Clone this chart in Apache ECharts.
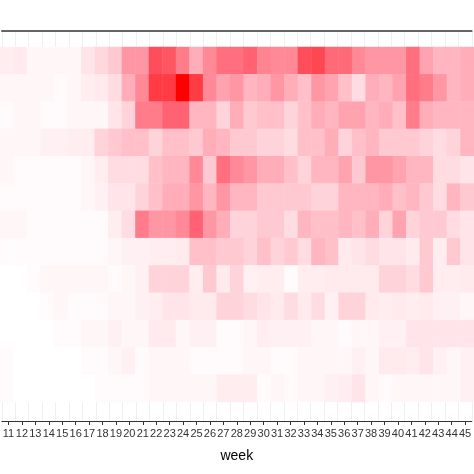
<!DOCTYPE html>
<html><head><meta charset="utf-8">
<script src="https://cdn.jsdelivr.net/npm/echarts@6/dist/echarts.min.js"></script>
<style>html,body{margin:0;padding:0;background:#fff}#c{width:474px;height:474px}</style>
</head><body><div id="c"></div>
<script>
const weeks = [];
for (let w = 11; w <= 45; w++) weeks.push(String(w));
const rows = ['1','2','3','4','5','6','7','8','9','10','11','12','13'];
const r1 = [10,12,5,5,5,5,15,22,30,55,55,80,78,65,45,60,70,70,75,62,60,60,80,82,72,72,60,55,55,55,70,50,40,40,45];
const r2 = [5,5,5,5,3,5,10,12,20,45,60,85,85,100,85,60,50,55,40,45,55,45,35,55,50,35,20,45,40,50,70,65,55,40,45];
const r3 = [3,5,5,3,3,5,5,5,15,25,65,65,75,75,40,40,25,45,30,35,35,25,35,45,40,50,50,40,45,35,65,45,40,40,40];
const r4 = [5,5,5,8,8,10,10,25,30,35,35,25,35,35,30,45,40,30,30,25,25,20,35,35,45,25,35,40,30,30,30,25,20,25,40];
const r5 = [5,3,3,3,3,3,5,10,20,20,20,35,40,40,60,30,70,60,55,45,45,35,25,40,40,50,30,55,55,50,40,40,20,20,15];
const r6 = [3,3,3,3,3,3,5,8,15,15,25,35,45,45,55,40,55,40,40,30,30,30,30,25,25,40,40,40,45,35,40,30,20,40,30];
const r7 = [5,5,3,2,2,2,3,3,10,20,65,55,55,60,75,55,45,25,25,30,30,20,40,35,35,40,35,45,25,50,25,30,30,20,15];
const r8 = [2,2,2,2,2,2,2,3,5,8,8,10,10,12,35,35,30,30,25,35,25,30,20,40,35,12,15,20,15,15,12,30,10,30,15];
const r9 = [0,0,2,5,5,5,5,5,3,5,8,25,25,25,10,30,12,25,8,10,10,3,10,10,12,12,12,12,25,25,20,30,10,10,12];
const r10 = [0,0,0,2,5,3,3,3,5,5,8,10,15,15,12,12,25,25,20,15,12,20,12,20,8,25,25,12,10,12,10,12,8,8,5];
const r11 = [0,0,0,0,2,3,5,5,8,5,5,12,12,5,8,8,3,2,5,10,8,8,8,5,5,3,5,5,8,8,15,15,15,15,15];
const r12 = [3,0,0,0,0,0,2,3,5,8,3,5,5,5,3,3,3,3,5,5,3,3,5,5,5,5,8,5,12,12,10,15,8,5,8];
const r13 = [2,0,0,0,0,0,0,2,3,3,3,5,5,5,5,5,10,10,10,3,5,3,5,5,8,10,15,5,3,5,5,5,5,5,8];
const allRows = [r1,r2,r3,r4,r5,r6,r7,r8,r9,r10,r11,r12,r13];
const data = [];
allRows.forEach((r, yi) => r.forEach((v, xi) => data.push([xi, yi, v])));
const L = -7, R = -4;
const chart = echarts.init(document.getElementById('c'));
chart.setOption({
  animation: false,
  grid: [
    {left: L, right: R, top: 31, bottom: 53},
    {left: L, right: R, top: 47, bottom: 72}
  ],
  xAxis: [
    {gridIndex: 0, type: 'category', data: weeks, boundaryGap: true,
     axisLine: {show: true, lineStyle: {color: '#333', width: 1}},
     axisTick: {show: true, alignWithLabel: true, length: 4, lineStyle: {color: '#333'}},
     axisLabel: {interval: 0, fontSize: 11, color: '#333', margin: 7, fontFamily: 'Liberation Sans'},
     splitLine: {show: true, interval: 0, lineStyle: {color: '#f0f0f0', width: 1}},
     name: 'week', nameLocation: 'middle', nameGap: 28,
     nameTextStyle: {fontSize: 14, color: '#000', fontFamily: 'Liberation Sans'}},
    {gridIndex: 0, type: 'category', data: weeks, position: 'top',
     axisLine: {show: true, lineStyle: {color: '#333', width: 1.5}},
     axisTick: {show: false}, axisLabel: {show: false}},
    {gridIndex: 1, type: 'category', data: weeks, show: false}
  ],
  yAxis: [
    {gridIndex: 0, type: 'value', show: false, min: 0, max: 1},
    {gridIndex: 1, type: 'category', data: rows, inverse: true, show: false}
  ],
  visualMap: {show: false, min: 0, max: 100, seriesIndex: 0,
    inRange: {color: ['#ffffff', '#ffd3da', '#ffa3b0', '#ff6272', '#ff0000']}},
  series: [{type: 'heatmap', xAxisIndex: 2, yAxisIndex: 1, data: data, itemStyle: {borderWidth: 0}}]
});
</script></body></html>
